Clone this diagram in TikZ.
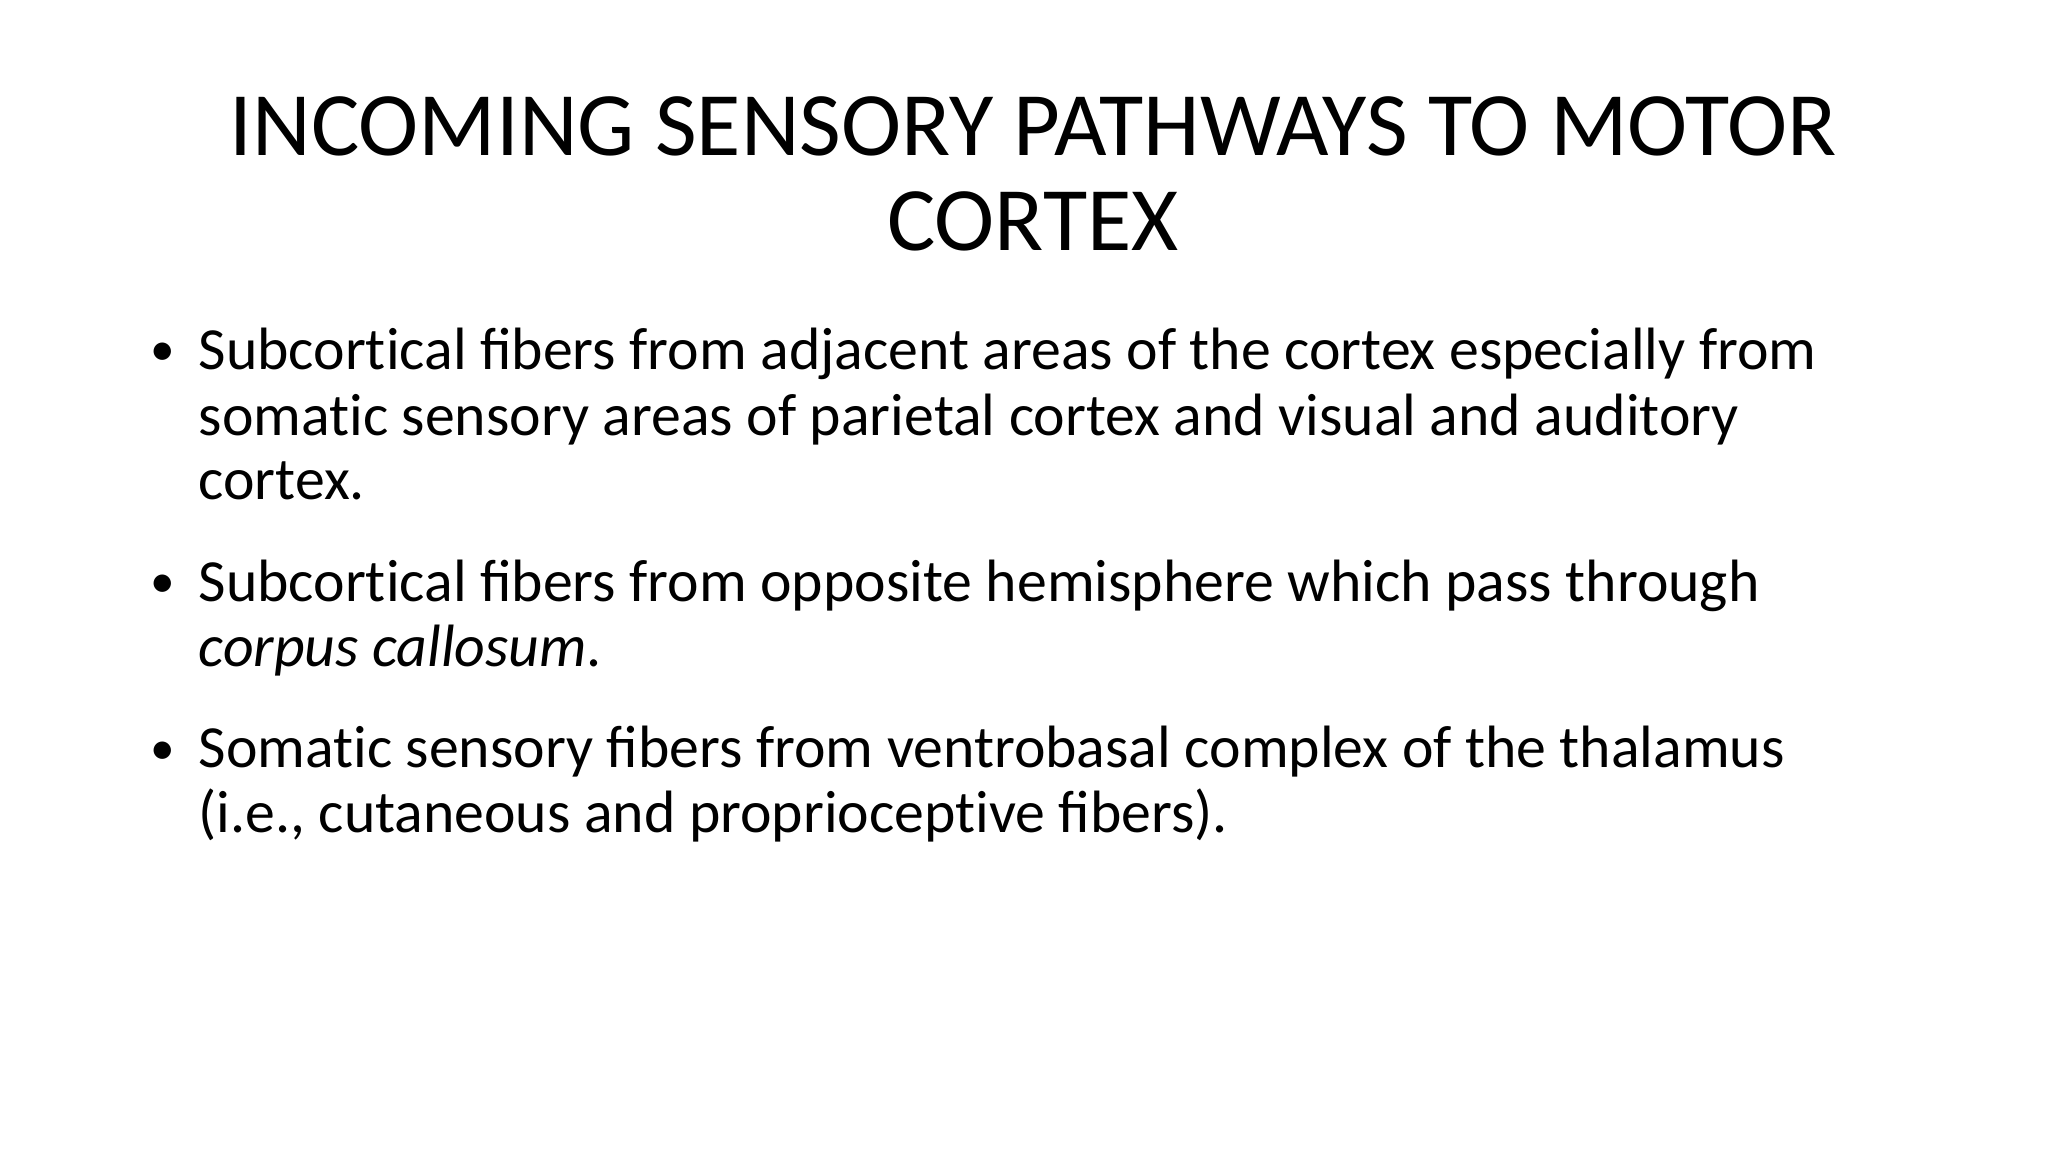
\documentclass[tikz,border=0pt]{standalone}
\usepackage{fontspec}
\setmainfont{Carlito}
\newcommand\nlg{\kern0pt }
\begin{document}
\begin{tikzpicture}[
  ttl/.style={anchor=base,inner sep=0pt,font=\fontsize{25.8}{26}\selectfont},
  txt/.style={anchor=base west,inner sep=0pt,font=\fontsize{17}{17}\selectfont},
  bul/.style={anchor=base east,inner sep=0pt,font=\fontsize{14}{14}\selectfont}]
\fill[white] (0,0) rectangle (20.48,-11.52);
\useasboundingbox (0,0) rectangle (20.48,-11.52);
\node[ttl] (t1) at (10.33,-1.56) {INCOMING SENSORY PATHWAYS TO MOTOR};
\node[ttl] (t2) at (10.33,-2.51) {CORTEX};
\node[bul] (b1) at (1.76,-3.66) {•};
\node[txt] (l1) at (1.98,-3.70) {Subcort\nlg ical fibers from adjacent areas of the cortex especially from};
\node[txt] (l2) at (1.98,-4.36) {somat\nlg ic sensory areas of parietal cortex and visual and auditory};
\node[txt] (l3) at (1.98,-4.99) {cortex.};
\node[bul] (b2) at (1.76,-5.98) {•};
\node[txt] (l4) at (1.98,-6.02) {Subcort\nlg ical fibers from opposite hemisphere which pass through};
\node[txt] (l5) at (1.98,-6.67) {\textit{corpus callosum}.};
\node[bul] (b3) at (1.76,-7.64) {•};
\node[txt] (l6) at (1.98,-7.68) {Somat\nlg ic sensory fibers from ventrobasal complex of the thalamus};
\node[txt] (l7) at (1.98,-8.32) {(i.e., cutaneous and propriocept\nlg ive fibers).};
\end{tikzpicture}
\end{document}
